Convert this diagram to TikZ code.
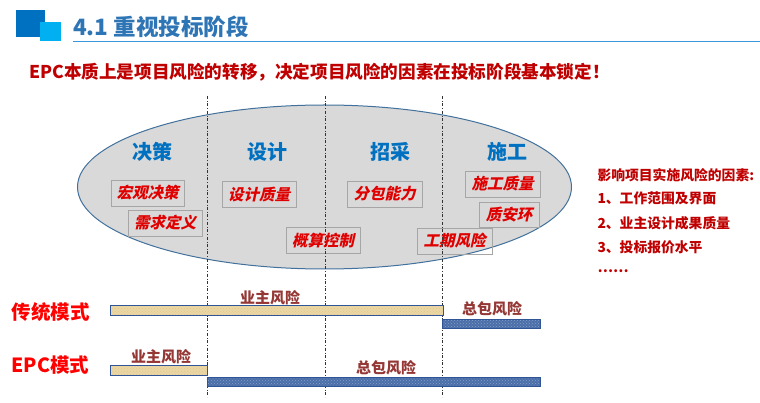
\documentclass[tikz,border=0pt]{standalone}
\usepackage{fontspec}
\setmainfont{Noto Sans CJK SC}
\newfontfamily\slantcjk[FakeSlant=0.22]{Noto Sans CJK SC}
\usetikzlibrary{shapes.geometric, patterns}

\definecolor{headdark}{HTML}{0070C0}
\definecolor{headlight}{HTML}{00B0F0}
\definecolor{titleblue}{HTML}{2E75B6}
\definecolor{ruleblue}{HTML}{3A96DD}
\definecolor{darkred}{HTML}{C00000}
\definecolor{boxred}{HTML}{E00000}
\definecolor{brownred}{HTML}{953735}
\definecolor{ovalfill}{HTML}{D9D9D9}
\definecolor{ovalline}{HTML}{41719C}
\definecolor{ownerfill}{HTML}{EAD7A4}
\definecolor{contrfill}{HTML}{4A6EA9}
\definecolor{barline}{HTML}{2F5597}

\begin{document}
\begin{tikzpicture}[x=1pt, y=-1pt,
  phase/.style={font=\fontsize{20}{20}\selectfont\bfseries, text=headdark},
  factor/.style={draw=black!35, line width=0.8pt, minimum width=74, minimum height=26,
    inner sep=0pt, font=\slantcjk\fontsize{15.5}{15.5}\selectfont\bfseries, text=boxred},
  divider/.style={dash dot, line width=0.6pt, black!80},
  mode/.style={anchor=west, font=\fontsize{19.5}{19.5}\selectfont\bfseries, text=red},
  riskbar/.style={draw=barline, line width=0.8pt, inner sep=0pt},
  ownerbar/.style={riskbar, preaction={fill=ownerfill}, pattern=crosshatch dots,
    pattern color=ownerfill!80!brown, minimum height=10},
  contrbar/.style={riskbar, preaction={fill=contrfill}, pattern=crosshatch dots,
    pattern color=white!35!contrfill, minimum height=9},
  risklabel/.style={font=\fontsize{15}{15}\selectfont\bfseries, text=brownred},
  note/.style={anchor=west, font=\fontsize{13.8}{13.8}\selectfont\bfseries, text=darkred}
]
\useasboundingbox (0,0) rectangle (760,403);
\fill[white] (0,0) rectangle (760,403);

% header
\fill[headdark] (16,10) rectangle (45,37);
\fill[headlight] (40,22) rectangle (61,41);
\node[anchor=west, inner sep=0pt, font=\fontsize{22.5}{22.5}\selectfont\bfseries, text=titleblue]
  (title) at (73,27) {4.1 重视投标阶段};
\coordinate (ruleL) at (73,42);
\coordinate (ruleR) at (760,42);
\draw[ruleblue, line width=1pt] (ruleL) -- (ruleR);
\node[anchor=west, inner sep=0pt, font=\fontsize{17.6}{17.6}\selectfont\bfseries, text=darkred]
  (thesis) at (29,72) {EPC本质上是项目风险的转移，决定项目风险的因素在投标阶段基本锁定！};

% stages
\node[ellipse, draw=ovalline, line width=1pt, fill=ovalfill, minimum width=494,
  minimum height=164, inner sep=0pt] (stages) at (324.5,187) {};
\node[phase] (decide) at (152,152) {决策};
\node[phase] (design) at (267,152) {设计};
\node[phase] (procure) at (390,152) {招采};
\node[phase] (build) at (507,152) {施工};

\node[factor, minimum width=73] (macro) at (147.5,193) {宏观决策};
\node[factor] (demand) at (165,223) {需求定义};
\node[factor] (quality) at (259,194.5) {设计质量};
\node[factor] (budget) at (323,240.5) {概算控制};
\node[factor, minimum width=75] (subcon) at (384.5,194) {分包能力};
\node[factor, minimum width=75] (buildq) at (502.5,184) {施工质量};
\node[factor, minimum width=60, minimum height=25] (safety) at (509,214.5) {质安环};
\node[factor, minimum width=75] (period) at (454.5,241) {工期风险};

% phase dividers
\foreach \x/\n in {207/a, 325/b, 442/c} {
  \coordinate (top\n) at (\x,96);
  \coordinate (bot\n) at (\x,397);
  \draw[divider] (top\n) -- (bot\n);
}

% factors list
\node[note] (notehead) at (594,175) {影响项目实施风险的因素:};
\node[note] (note1) at (594,198) {1、工作范围及界面};
\node[note] (note2) at (594,223) {2、业主设计成果质量};
\node[note] (note3) at (594,247) {3、投标报价水平};
\node[note] (note4) at (594,271) {……};

% risk bars
\node[mode] (tradmode) at (8,312) {传统模式};
\node[mode] (epcmode) at (8,365) {EPC模式};

\node[ownerbar, minimum width=333] (tradowner) at (276.5,310) {};
\node[contrbar, minimum width=98] (tradcontr) at (491,324) {};
\node[ownerbar, minimum width=97] (epcowner) at (158.5,370) {};
\node[contrbar, minimum width=333] (epccontr) at (373.5,382) {};

\node[risklabel] (tradownerlbl) at (270,298) {业主风险};
\node[risklabel] (tradcontrlbl) at (492,309) {总包风险};
\node[risklabel] (epcownerlbl) at (161,357) {业主风险};
\node[risklabel] (epccontrlbl) at (386,368) {总包风险};
\end{tikzpicture}
\end{document}
